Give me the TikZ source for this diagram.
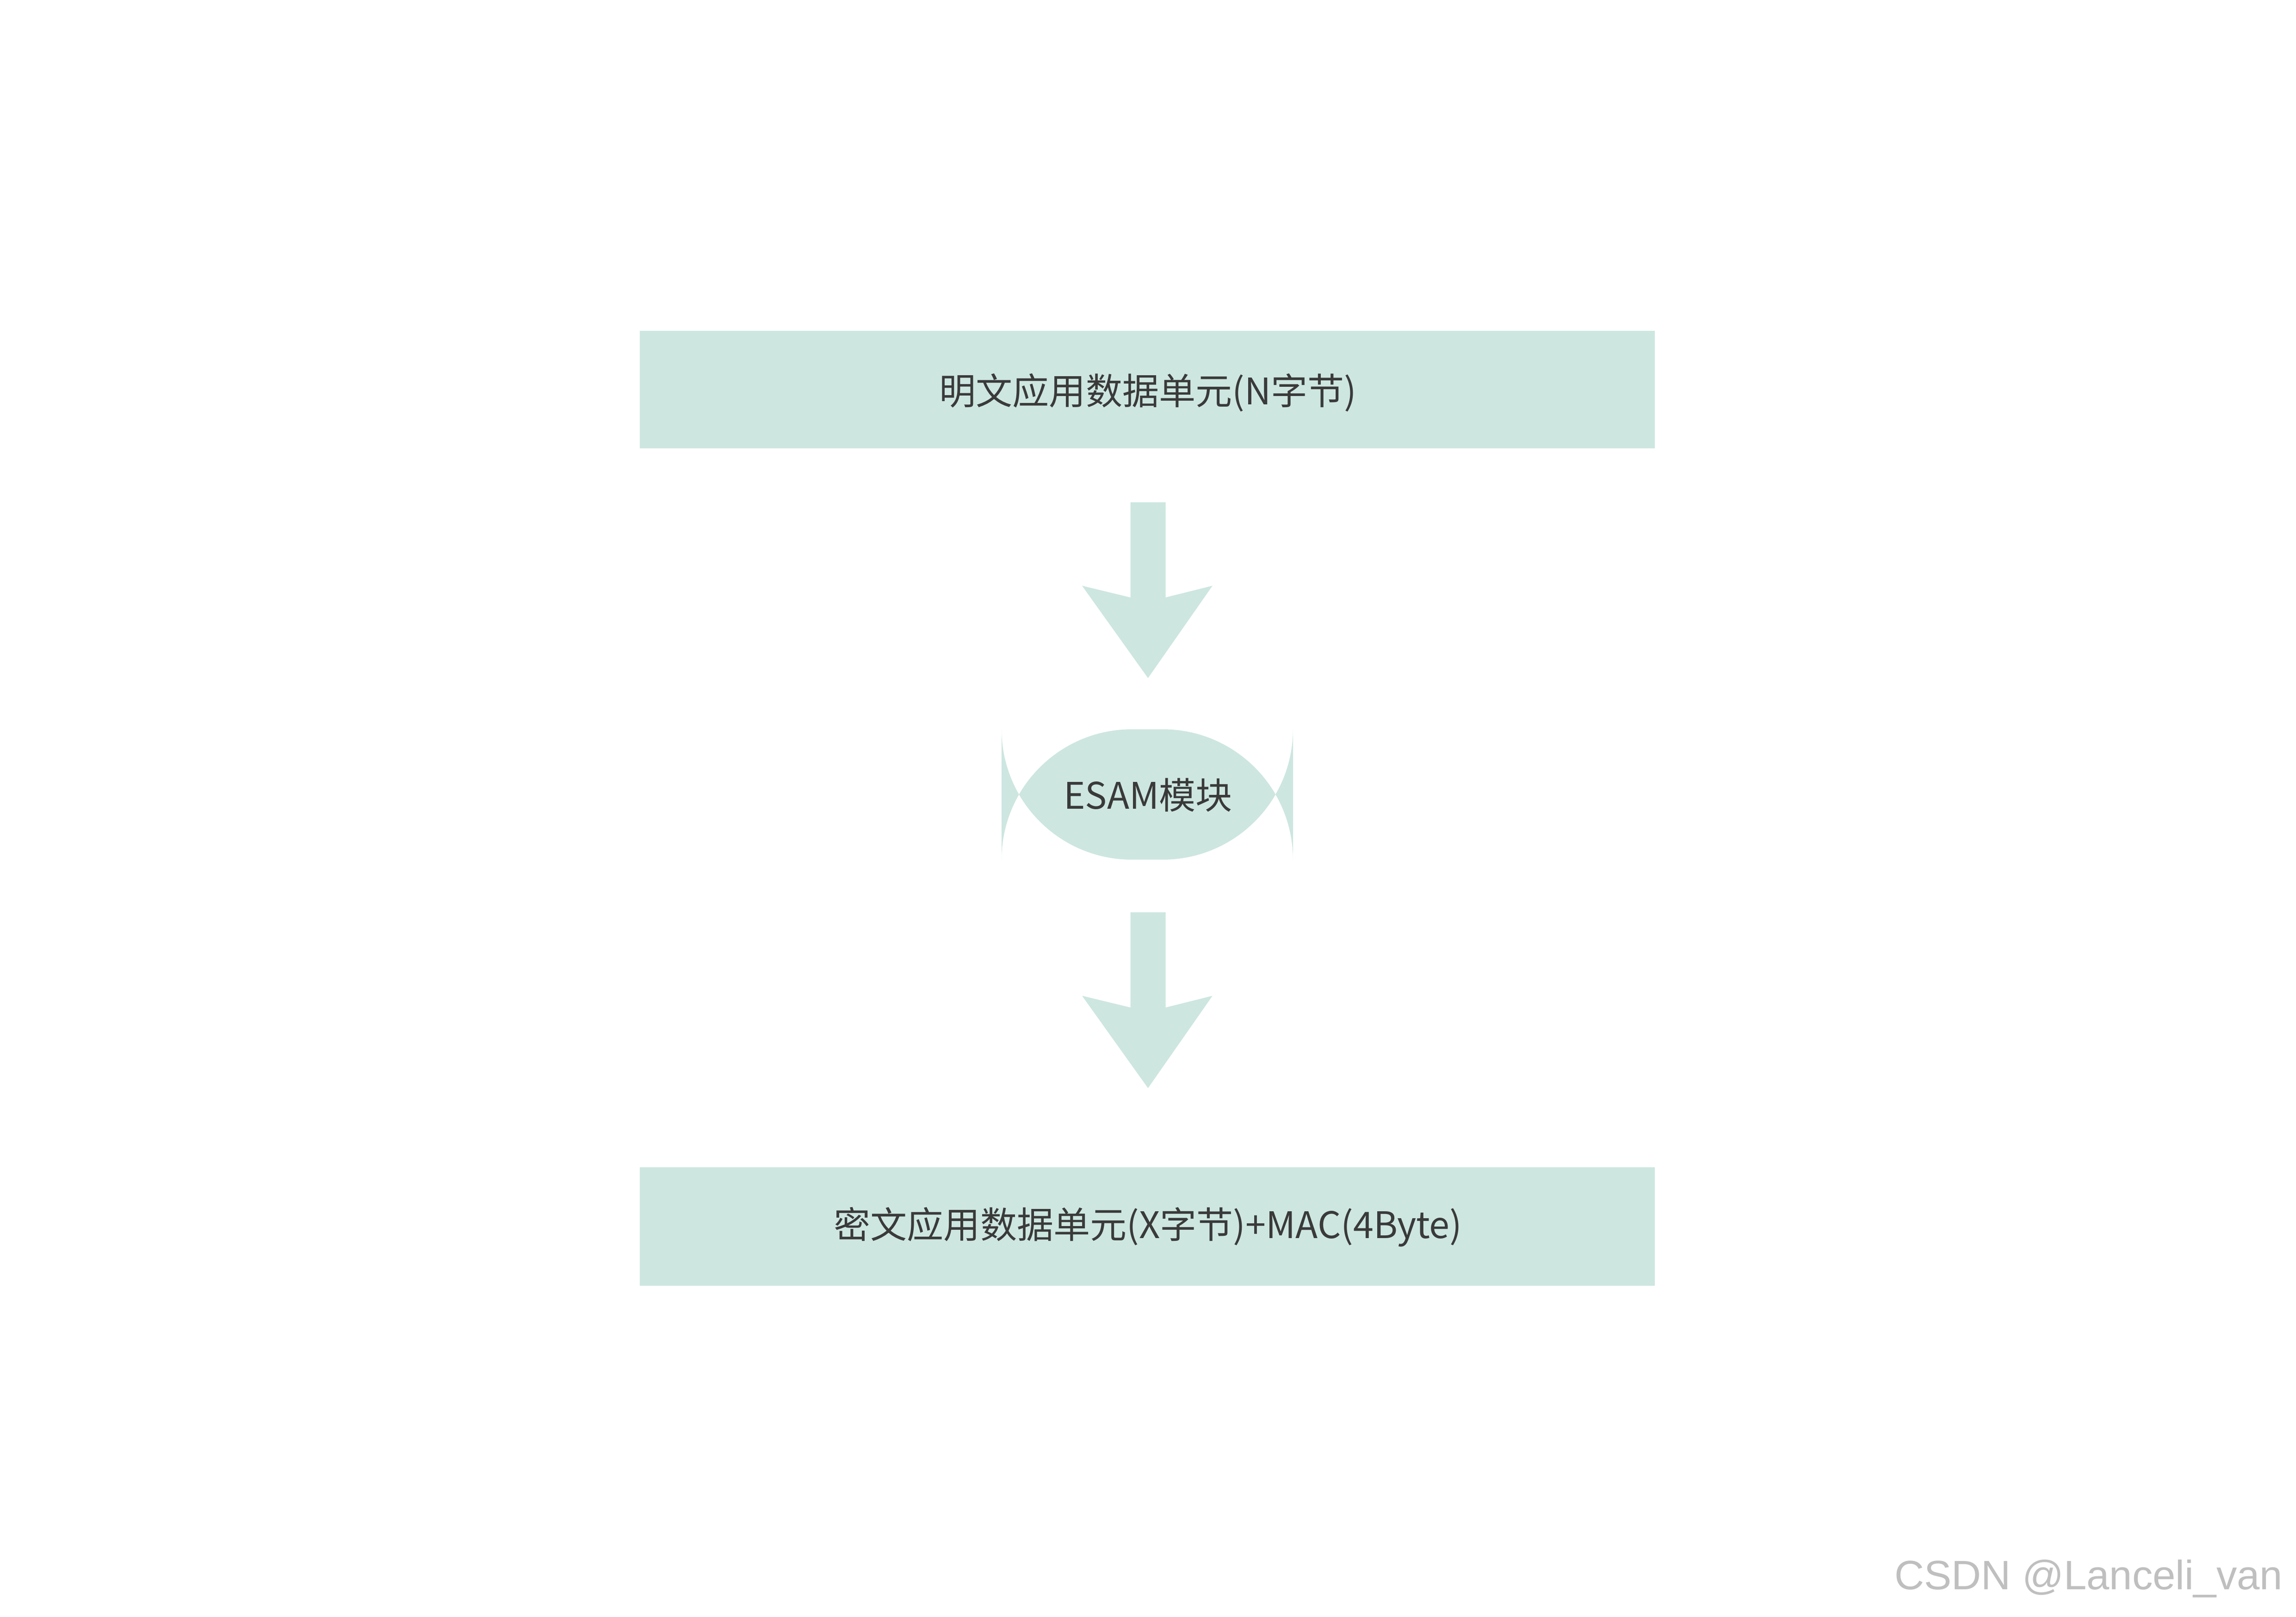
\documentclass[tikz,border=0pt]{standalone}
\usepackage{fontspec}
\setmainfont{Noto Sans CJK SC}
\newfontfamily\wmfont{Liberation Sans}
\definecolor{boxc}{HTML}{CDE6E0}
\definecolor{txt}{HTML}{3A3A3A}
\begin{document}
\begin{tikzpicture}[x=0.5pt,y=-0.5pt,
  lbl/.style={text=txt,font=\fontsize{12.5}{14}\selectfont}]
\useasboundingbox (0,0) rectangle (1568,1104);
\fill[white] (0,0) rectangle (1568,1104);
\fill[boxc] (437,226) rectangle (1130,306);
\node[lbl] (top) at (784,268) {明文应用数据单元(N字节)};
\fill[boxc] (772,343) -- (796,343) -- (796,408) -- (828,400) -- (784,463) -- (739,400) -- (772,408) -- cycle;
\fill[boxc, rounded corners=44.5] (684,498) rectangle (883,587);
\node[lbl] (esam) at (784,543) {ESAM模块};
\fill[boxc] (772,623) -- (796,623) -- (796,688) -- (828,680) -- (784,743) -- (739,680) -- (772,688) -- cycle;
\fill[boxc] (437,797) rectangle (1130,878);
\node[lbl] (bot) at (784,838) {密文应用数据单元(X字节)+MAC(4Byte)};
\node[text=black!25,font=\wmfont\fontsize{14}{16}\selectfont,anchor=east] (wm) at (1566,1078) {CSDN @Lanceli\_van};
\end{tikzpicture}
\end{document}
